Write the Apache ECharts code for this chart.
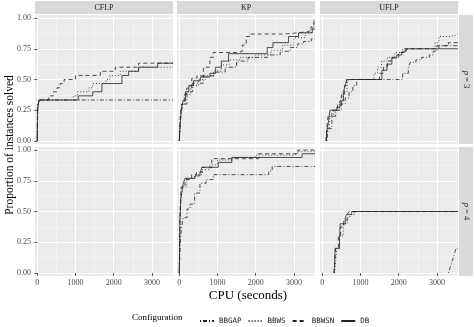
<!DOCTYPE html>
<html><head><meta charset="utf-8">
<script src="https://cdn.jsdelivr.net/npm/echarts@6/dist/echarts.min.js"></script>
<style>html,body{margin:0;padding:0;background:#fff}#c{width:474px;height:327px}</style>
</head><body><div id="c"></div>
<script>
// ---------- categories / ticks ----------
const problems = ['CFLP', 'KP', 'UFLP'];
const pValues = ['3', '4'];
const configs = ['BBGAP', 'BBWS', 'BBWSN', 'DB'];
const xTicks = [0, 1000, 2000, 3000];
const xMinorTicks = [500, 1500, 2500, 3500];
const yTicks = [0, 0.25, 0.5, 0.75, 1];
const yMinorTicks = [0.125, 0.375, 0.625, 0.875];
const yTickLabels = ['0.00', '0.25', '0.50', '0.75', '1.00'];

// ---------- data: [CPU seconds, proportion solved] (ECDF steps) ----------
const CFLP_p3_BBGAP = [[0,0],[2,0.1],[5,0.2],[10,0.267],[20,0.3],[40,0.333]];
const CFLP_p3_BBWS  = [[0,0],[3,0.1],[8,0.2],[15,0.267],[30,0.3],[60,0.333],[950,0.367],[1050,0.4],[1350,0.433],[1450,0.467],[1800,0.5],[1900,0.533],[2170,0.567],[2650,0.6]];
const CFLP_p3_BBWSN = [[0,0],[2,0.1],[6,0.2],[12,0.267],[25,0.3],[50,0.333],[300,0.367],[420,0.4],[520,0.433],[600,0.467],[700,0.5],[1000,0.533],[1650,0.567],[2040,0.6],[2650,0.633]];
const CFLP_p3_DB    = [[0,0],[2,0.1],[5,0.2],[10,0.267],[25,0.3],[50,0.333],[1070,0.367],[1450,0.4],[1690,0.467],[2215,0.533],[2390,0.567],[2650,0.6],[3150,0.633]];

const KP_p3_BBGAP = [[0,0],[15,0.1],[40,0.2],[90,0.3],[200,0.4],[350,0.47],[630,0.53],[900,0.56],[1200,0.6],[1500,0.65],[1800,0.68],[2300,0.7],[2640,0.73],[2900,0.76],[3100,0.79],[3250,0.81],[3450,0.83]];
const KP_p3_BBWS  = [[0,0],[12,0.1],[35,0.2],[80,0.3],[150,0.38],[300,0.45],[500,0.5],[700,0.53],[900,0.57],[1100,0.62],[1300,0.66],[1600,0.68],[2000,0.7],[2400,0.74],[2700,0.78],[3000,0.84],[3300,0.88],[3450,0.93],[3520,0.99]];
const KP_p3_BBWSN = [[0,0],[8,0.1],[25,0.2],[60,0.3],[130,0.38],[194,0.43],[325,0.51],[460,0.53],[630,0.6],[800,0.68],[890,0.72],[1550,0.73],[1650,0.78],[1750,0.85],[1850,0.87],[2750,0.88],[3100,0.89],[3400,0.92],[3520,0.97]];
const KP_p3_DB    = [[0,0],[10,0.05],[25,0.15],[50,0.25],[100,0.33],[160,0.4],[250,0.45],[370,0.49],[550,0.52],[800,0.55],[950,0.6],[1100,0.65],[1290,0.71],[2300,0.76],[2450,0.8],[2860,0.85],[3120,0.88],[3480,0.91]];

const UFLP_p3_BBGAP = [[120,0],[150,0.1],[250,0.2],[350,0.25],[500,0.3],[600,0.35],[700,0.4],[800,0.45],[900,0.5],[2000,0.5],[2100,0.55],[2250,0.6],[2300,0.64],[2450,0.66],[2600,0.68],[2800,0.7],[2900,0.73],[3000,0.775]];
const UFLP_p3_BBWS  = [[110,0],[125,0.1],[180,0.2],[300,0.25],[450,0.33],[550,0.4],[650,0.475],[700,0.5],[1250,0.5],[1350,0.55],[1450,0.6],[1550,0.65],[1700,0.68],[1900,0.72],[2100,0.75],[2950,0.8],[3050,0.85],[3350,0.86],[3480,0.875]];
const UFLP_p3_BBWSN = [[100,0],[115,0.1],[150,0.2],[250,0.25],[400,0.3],[500,0.375],[580,0.45],[640,0.5],[1420,0.5],[1500,0.55],[1600,0.6],[1700,0.65],[1800,0.68],[2000,0.72],[2200,0.75],[3050,0.775],[3300,0.8]];
const UFLP_p3_DB    = [[100,0],[110,0.05],[130,0.1],[160,0.15],[200,0.25],[380,0.275],[465,0.325],[550,0.4],[600,0.45],[640,0.5],[1470,0.5],[1560,0.575],[1690,0.625],[1820,0.675],[1950,0.7],[2080,0.725],[2170,0.75]];

const CFLP_p4_BBGAP = [];
const CFLP_p4_BBWS  = [];
const CFLP_p4_BBWSN = [];
const CFLP_p4_DB    = [];

const KP_p4_BBGAP = [[0,0],[10,0.1],[25,0.25],[50,0.35],[100,0.45],[200,0.52],[280,0.56],[400,0.65],[540,0.73],[700,0.76],[890,0.8],[2340,0.83],[2430,0.867]];
const KP_p4_BBWS  = [[0,0],[5,0.1],[12,0.25],[20,0.4],[40,0.6],[80,0.7],[200,0.77],[400,0.8],[600,0.84],[800,0.88],[1000,0.92],[1400,0.94],[2000,0.96],[3000,0.97],[3100,0.99]];
const KP_p4_BBWSN = [[0,0],[4,0.1],[8,0.25],[14,0.4],[25,0.55],[50,0.7],[150,0.76],[325,0.8],[450,0.82],[600,0.86],[850,0.93],[2070,0.97],[3100,1.0]];
const KP_p4_DB    = [[0,0],[4,0.1],[8,0.2],[12,0.35],[18,0.46],[40,0.6],[63,0.65],[105,0.73],[150,0.77],[410,0.79],[540,0.81],[590,0.86],[1020,0.9],[1375,0.94],[3210,0.97]];

const UFLP_p4_BBGAP = [[3300,0],[3350,0.05],[3400,0.1],[3450,0.15],[3500,0.2]];
const UFLP_p4_BBWS  = [[320,0],[350,0.1],[380,0.2],[450,0.3],[550,0.4],[650,0.45],[720,0.475],[850,0.5]];
const UFLP_p4_BBWSN = [[310,0],[330,0.1],[350,0.2],[420,0.3],[480,0.375],[560,0.425],[650,0.475],[700,0.5]];
const UFLP_p4_DB    = [[300,0],[320,0.05],[333,0.2],[450,0.25],[465,0.4],[600,0.45],[640,0.475],[770,0.5]];

const panelData = {
  CFLP_3: [CFLP_p3_BBGAP, CFLP_p3_BBWS, CFLP_p3_BBWSN, CFLP_p3_DB],
  KP_3:   [KP_p3_BBGAP, KP_p3_BBWS, KP_p3_BBWSN, KP_p3_DB],
  UFLP_3: [UFLP_p3_BBGAP, UFLP_p3_BBWS, UFLP_p3_BBWSN, UFLP_p3_DB],
  CFLP_4: [CFLP_p4_BBGAP, CFLP_p4_BBWS, CFLP_p4_BBWSN, CFLP_p4_DB],
  KP_4:   [KP_p4_BBGAP, KP_p4_BBWS, KP_p4_BBWSN, KP_p4_DB],
  UFLP_4: [UFLP_p4_BBGAP, UFLP_p4_BBWS, UFLP_p4_BBWSN, UFLP_p4_DB]
};

// ---------- layout / style ----------
const X_MIN = -60, X_MAX = 3550;
const Y_MIN = -0.025, Y_MAX = 1.025;
const colLeft = [35, 177, 320];
const panelW = 138;
const rowTop = [15, 147];
const panelH = 129;
const SERIF = 'Liberation Serif';
const MONO = 'DejaVu Sans Mono';
const lineColor = '#222';
const dashTypes = { BBGAP: [1, 2, 4, 2], BBWS: [1, 2], BBWSN: [4, 3], DB: 'solid' };

const grids = [], xAxes = [], yAxes = [], series = [];
const nPanels = 6;
for (let r = 0; r < 2; r++) {
  for (let c = 0; c < 3; c++) {
    grids.push({ left: colLeft[c], top: rowTop[r], width: panelW, height: panelH,
      show: true, backgroundColor: '#ebebeb', borderWidth: 0, containLabel: false });
  }
}
// major axes
for (let i = 0; i < nPanels; i++) {
  const r = Math.floor(i / 3), c = i % 3;
  xAxes.push({ type: 'value', gridIndex: i, min: X_MIN, max: X_MAX,
    axisLine: { show: false },
    axisTick: { show: r === 1, customValues: xTicks, length: 3, lineStyle: { color: '#333', width: 0.8 } },
    axisLabel: { show: r === 1, customValues: xTicks, fontFamily: SERIF, fontSize: 8, color: '#4d4d4d', margin: 3,
      formatter: v => String(Math.round(v)) },
    splitLine: { show: true, lineStyle: { color: '#ffffff', width: 1 } } });
  yAxes.push({ type: 'value', gridIndex: i, min: Y_MIN, max: Y_MAX,
    axisLine: { show: false },
    axisTick: { show: c === 0, customValues: yTicks, length: 3, lineStyle: { color: '#333', width: 0.8 } },
    axisLabel: { show: c === 0, customValues: yTicks, fontFamily: SERIF, fontSize: 8, color: '#4d4d4d', margin: 4,
      formatter: v => yTickLabels[yTicks.indexOf(Math.round(v * 1000) / 1000)] || '' },
    splitLine: { show: true, lineStyle: { color: '#ffffff', width: 1 } } });
}
// minor grid axes
for (let i = 0; i < nPanels; i++) {
  xAxes.push({ type: 'value', gridIndex: i, min: X_MIN, max: X_MAX,
    axisLine: { show: false }, axisTick: { show: false, customValues: xMinorTicks }, axisLabel: { show: false, customValues: xMinorTicks },
    splitLine: { show: true, lineStyle: { color: '#f6f6f6', width: 0.6 } } });
  yAxes.push({ type: 'value', gridIndex: i, min: Y_MIN, max: Y_MAX,
    axisLine: { show: false }, axisTick: { show: false, customValues: yMinorTicks }, axisLabel: { show: false, customValues: yMinorTicks },
    splitLine: { show: true, lineStyle: { color: '#f6f6f6', width: 0.6 } } });
}
// series
for (let i = 0; i < nPanels; i++) {
  const r = Math.floor(i / 3), c = i % 3;
  const arrs = panelData[problems[c] + '_' + pValues[r]];
  configs.forEach((cfg, k) => {
    const pts = arrs[k].slice();
    if (pts.length) pts.push([X_MAX, pts[pts.length - 1][1]]);
    series.push({ type: 'line', name: cfg, xAxisIndex: i, yAxisIndex: i, data: pts,
      step: 'end', symbol: 'none', silent: true, z: 3,
      lineStyle: { color: lineColor, width: 0.8, type: dashTypes[cfg] },
      itemStyle: { color: lineColor } });
  });
}

// strips and titles
const graphic = [];
problems.forEach((p, c) => {
  graphic.push({ type: 'rect', x: colLeft[c], y: 1, shape: { width: panelW, height: 13 }, style: { fill: '#d9d9d9' }, silent: true });
  graphic.push({ type: 'text', x: colLeft[c] + panelW / 2, y: 8,
    style: { text: p, fontFamily: SERIF, fontSize: 8, fill: '#1a1a1a', align: 'center', verticalAlign: 'middle' } });
});
pValues.forEach((pv, r) => {
  graphic.push({ type: 'rect', x: 459, y: rowTop[r], shape: { width: 14, height: panelH }, style: { fill: '#d9d9d9' }, silent: true });
  graphic.push({ type: 'text', x: 466, y: rowTop[r] + panelH / 2, rotation: -Math.PI / 2,
    style: { text: '{i|p} = ' + pv, fontFamily: SERIF, fontSize: 8.5, fill: '#1a1a1a', align: 'center', verticalAlign: 'middle',
      rich: { i: { fontStyle: 'italic', fontFamily: SERIF, fontSize: 8.5, fill: '#1a1a1a' } } } });
});
graphic.push({ type: 'text', x: 10, y: 145, rotation: Math.PI / 2,
  style: { text: 'Proportion of instances solved', fontFamily: SERIF, fontSize: 11.5, fill: '#000', align: 'center', verticalAlign: 'middle' } });
graphic.push({ type: 'text', x: 248, y: 296,
  style: { text: 'CPU (seconds)', fontFamily: SERIF, fontSize: 13, fill: '#000', align: 'center', verticalAlign: 'middle' } });
graphic.push({ type: 'text', x: 132, y: 318,
  style: { text: 'Configuration', fontFamily: SERIF, fontSize: 9, fill: '#000', align: 'left', verticalAlign: 'middle' } });

const chart = echarts.init(document.getElementById('c'), null, { renderer: 'canvas' });
chart.setOption({
  animation: false,
  backgroundColor: '#ffffff',
  grid: grids, xAxis: xAxes, yAxis: yAxes, series: series,
  legend: { data: configs, left: 194, top: 312, itemWidth: 14, itemHeight: 10, itemGap: 6,
    itemStyle: { opacity: 0 },
    textStyle: { fontFamily: MONO, fontSize: 7.5, color: '#1a1a1a' },
    selectedMode: false },
  graphic: graphic
});
</script></body></html>
